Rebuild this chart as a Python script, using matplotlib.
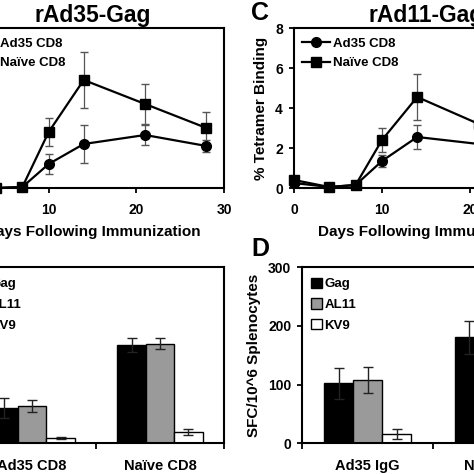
import matplotlib
matplotlib.use('Agg')
import matplotlib.pyplot as plt
from matplotlib.lines import Line2D

plt.rcParams['font.family'] = ['Liberation Sans', 'DejaVu Sans']
plt.rcParams['font.weight'] = 'bold'
plt.rcParams['axes.labelweight'] = 'bold'

# --- time course data (% tetramer binding) ---
days = [0, 4, 7, 10, 14, 21, 28]

ad35_cd8_rad35 = [0.2, 0.0, 0.05, 1.2, 2.2, 2.65, 2.1]
ad35_cd8_rad35_err = [0.1, 0.05, 0.05, 0.5, 0.95, 0.5, 0.3]
naive_cd8_rad35 = [0.3, 0.0, 0.05, 2.8, 5.4, 4.2, 3.0]
naive_cd8_rad35_err = [0.1, 0.05, 0.05, 0.7, 1.4, 1.0, 0.8]

ad35_cd8_rad11 = [0.25, 0.05, 0.15, 1.35, 2.55, 2.2, 2.0]
ad35_cd8_rad11_err = [0.1, 0.05, 0.05, 0.3, 0.6, 0.5, 0.4]
naive_cd8_rad11 = [0.4, 0.05, 0.15, 2.4, 4.55, 3.2, 2.8]
naive_cd8_rad11_err = [0.1, 0.05, 0.05, 0.6, 1.17, 0.9, 0.8]

# --- ELISPOT data (SFC/10^6 splenocytes) ---
groups_b = ['Ad35 CD8', 'Na\u00efve CD8']
gag_b = [60, 168]
gag_b_err = [17, 12]
al11_b = [63, 170]
al11_b_err = [10, 10]
kv9_b = [9, 19]
kv9_b_err = [2, 5]

groups_d = ['Ad35 IgG', 'Na\u00efve IgG']
gag_d = [102, 181]
gag_d_err = [26, 28]
al11_d = [108, 190]
al11_d_err = [22, 25]
kv9_d = [16, 20]
kv9_d_err = [8, 6]

PX = 474.0


def place(fig, x0, x1, ytop, ybot):
    return fig.add_axes([x0 / PX, 1 - ybot / PX, (x1 - x0) / PX, (ybot - ytop) / PX])


def style_axes(ax):
    for s in ax.spines.values():
        s.set_linewidth(1.5)
    ax.tick_params(direction='out', length=3.5, width=1.3, labelsize=10, pad=4.5)
    for lbl in ax.get_xticklabels() + ax.get_yticklabels():
        lbl.set_fontweight('bold')


def line_panel(ax, ad35, ad35_err, naive, naive_err, title):
    ax.errorbar(days, ad35, yerr=ad35_err, color='black', marker='o', ms=7,
                lw=1.6, ecolor='#555555', elinewidth=0.9, capsize=3, clip_on=False, zorder=3)
    ax.errorbar(days, naive, yerr=naive_err, color='black', marker='s', ms=6.8,
                lw=1.6, ecolor='#555555', elinewidth=0.9, capsize=3, clip_on=False, zorder=3)
    ax.set_xlim(0, 30)
    ax.set_ylim(0, 8)
    ax.set_xticks([0, 10, 20, 30])
    ax.set_yticks([0, 2, 4, 6, 8])
    ax.set_title(title, fontsize=16.5, fontweight='bold', pad=4)
    style_axes(ax)
    ax.tick_params(axis='x', pad=7.5)
    ax.set_xlabel('Days Following Immunization', fontsize=11, labelpad=5.5)
    handles = [Line2D([], [], color='black', marker='o', ms=7, lw=1.6),
               Line2D([], [], color='black', marker='s', ms=6.8, lw=1.6)]
    ax.legend(handles, ['Ad35 CD8', 'Na\u00efve CD8'], loc='upper left',
              bbox_to_anchor=(0.03, 0.94), borderaxespad=0, borderpad=0,
              frameon=False, handlelength=2.1, handletextpad=0.25,
              labelspacing=0.55, prop={'size': 9.5, 'weight': 'bold'})


def bar_panel(ax, groups, gag, gag_err, al11, al11_err, kv9, kv9_err):
    w = 0.222
    xs = list(range(len(groups)))
    ek = dict(elinewidth=1.0, ecolor='#222222', capsize=3.5, capthick=1.0)
    ax.bar([x - w for x in xs], gag, w, yerr=gag_err, color='black',
           edgecolor='black', lw=1, error_kw=ek, label='Gag')
    ax.bar(xs, al11, w, yerr=al11_err, color='#9a9a9a',
           edgecolor='black', lw=1, error_kw=ek, label='AL11')
    ax.bar([x + w for x in xs], kv9, w, yerr=kv9_err, color='white',
           edgecolor='black', lw=1, error_kw=ek, label='KV9')
    ax.set_xlim(-0.5, len(groups) - 0.5)
    ax.set_ylim(0, 300)
    ax.set_yticks([0, 100, 200, 300])
    ax.set_xticks(xs)
    ax.set_xticklabels(groups)
    ax.set_xticks([x + 0.5 for x in range(-1, len(groups))], minor=True)
    style_axes(ax)
    ax.tick_params(axis='x', which='major', length=0, labelsize=10.5, pad=11)
    ax.tick_params(axis='x', which='minor', length=4, width=1.3, direction='out')
    ax.legend(loc='upper left', bbox_to_anchor=(0.034, 0.94), borderaxespad=0,
              borderpad=0, frameon=False, handlelength=0.8, handleheight=0.8,
              handletextpad=0.2, labelspacing=0.6,
              prop={'size': 9.5, 'weight': 'bold'})


fig = plt.figure(figsize=(4.74, 4.74), dpi=100)

ax_a = place(fig, -39, 224, 28, 188)
line_panel(ax_a, ad35_cd8_rad35, ad35_cd8_rad35_err, naive_cd8_rad35,
           naive_cd8_rad35_err, 'rAd35-Gag')

ax_c = place(fig, 294, 558, 28, 188)
line_panel(ax_c, ad35_cd8_rad11, ad35_cd8_rad11_err, naive_cd8_rad11,
           naive_cd8_rad11_err, 'rAd11-Gag')
ax_c.set_ylabel('% Tetramer Binding', fontsize=11, labelpad=5)

ax_b = place(fig, -31.8, 224, 267.3, 443.3)
bar_panel(ax_b, groups_b, gag_b, gag_b_err, al11_b, al11_b_err, kv9_b, kv9_b_err)

ax_d = place(fig, 302.3, 563.5, 267.3, 443.3)
bar_panel(ax_d, groups_d, gag_d, gag_d_err, al11_d, al11_d_err, kv9_d, kv9_d_err)
ax_d.set_ylabel('SFC/10^6 Splenocytes', fontsize=11, labelpad=5)

fig.text(260 / PX, 1 - 13.5 / PX, 'C', fontsize=18, fontweight='bold',
         ha='center', va='center')
fig.text(260 / PX, 1 - 248.5 / PX, 'D', fontsize=18, fontweight='bold',
         ha='center', va='center')

fig.savefig('out.png', dpi=100)
